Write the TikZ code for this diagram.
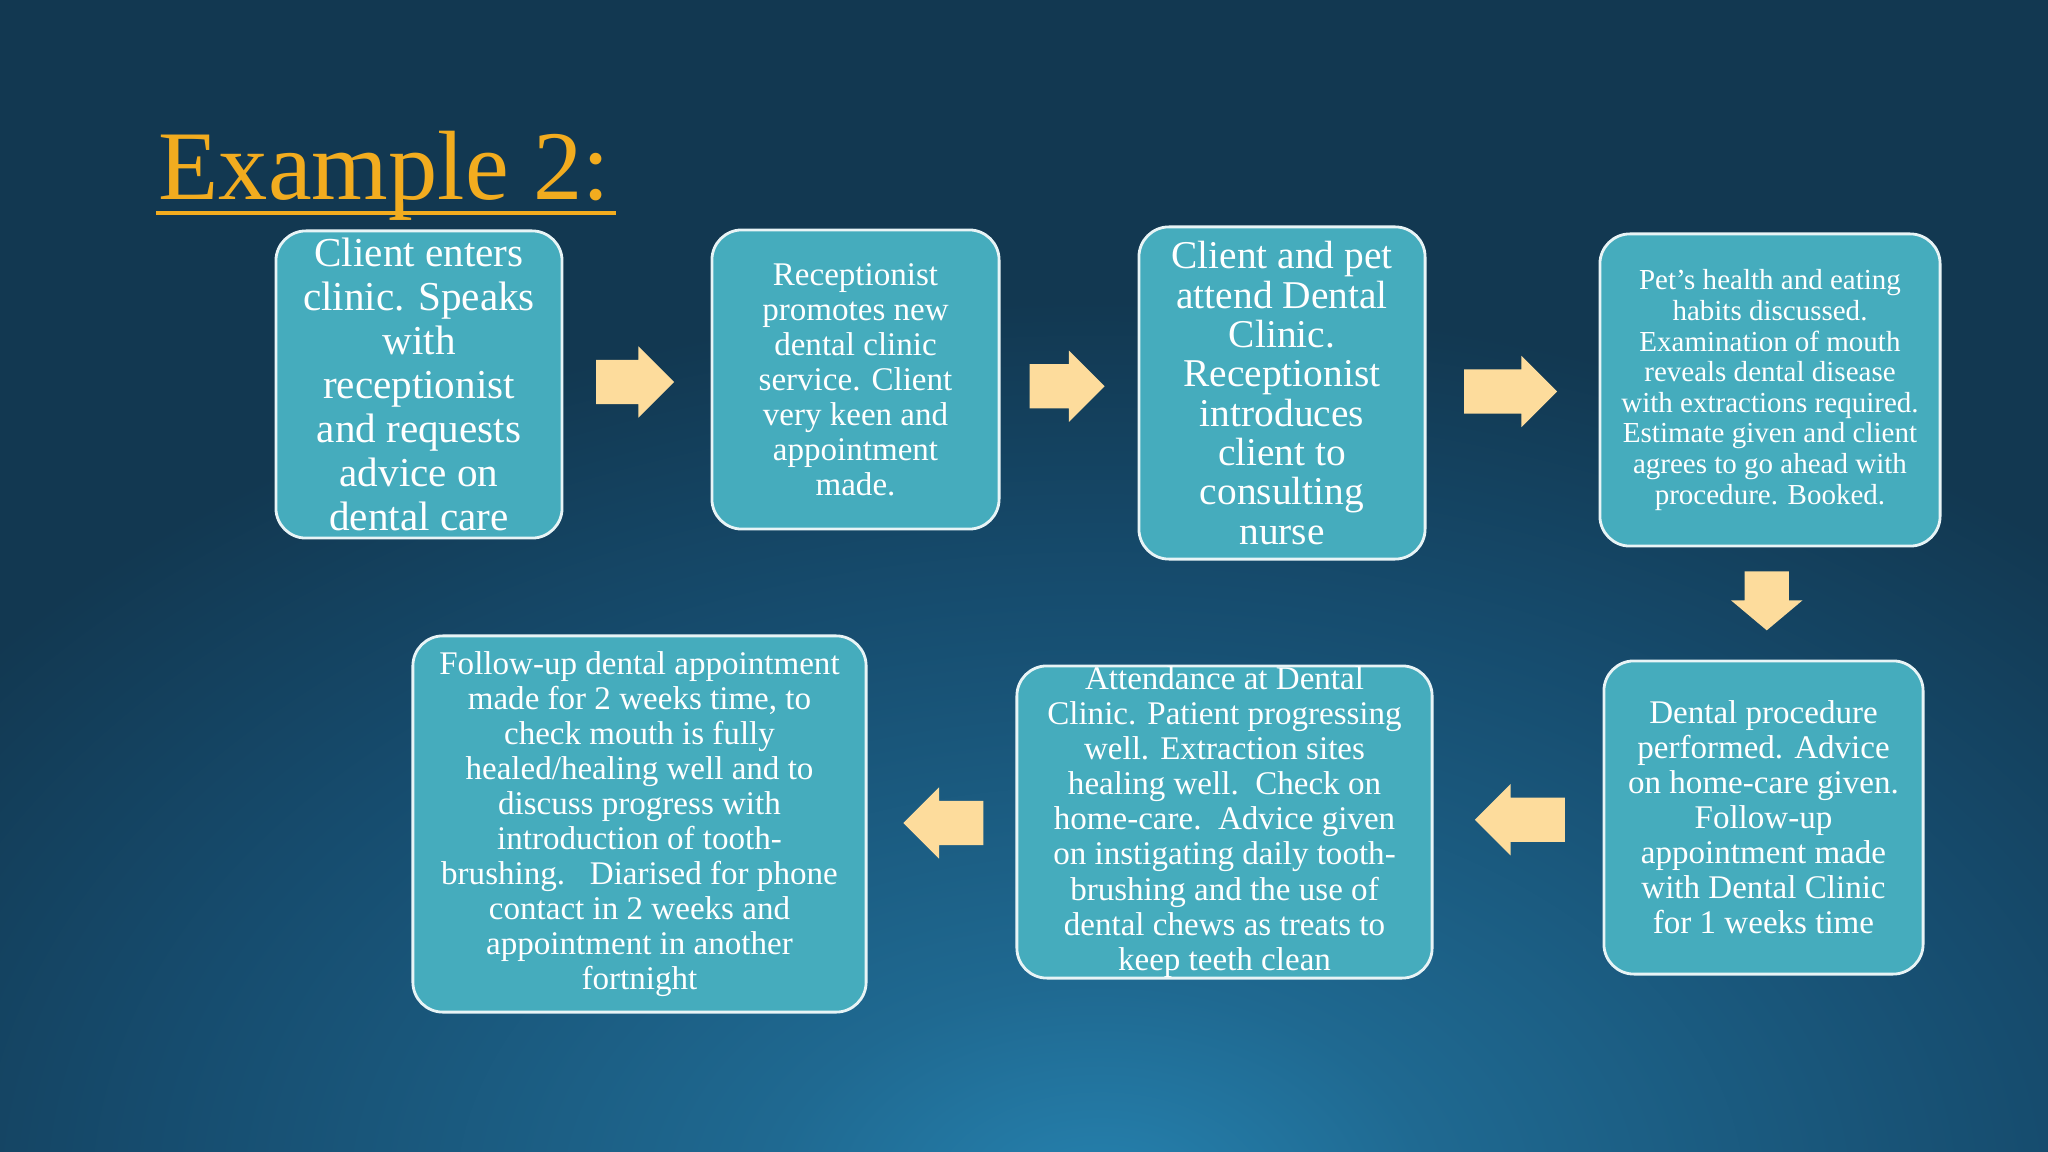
\documentclass[tikz,border=0pt]{standalone}
\usepackage{fontspec}
\setmainfont{Liberation Serif}
\usepackage{tikz}
\usetikzlibrary{shapes.arrows}
\definecolor{bgdark}{RGB}{18,56,81}
\definecolor{bgmid}{RGB}{22,76,110}
\definecolor{bgwarm}{RGB}{31,105,145}
\definecolor{bglight}{RGB}{38,130,175}
\definecolor{boxteal}{RGB}{69,172,189}
\definecolor{boxedge}{RGB}{232,244,246}
\definecolor{arrowsand}{RGB}{253,220,156}
\definecolor{titlegold}{RGB}{242,172,31}
\pgfdeclareradialshading{glow}{\pgfpoint{0bp}{0bp}}{color(0bp)=(bglight); color(6bp)=(bgwarm); color(17bp)=(bgmid); color(25bp)=(bgdark); color(50bp)=(bgdark)}
\tikzset{flowbox/.style={rectangle, rounded corners=0.3cm, fill=boxteal, draw=boxedge, line width=0.8pt, text=white, align=center, inner sep=0pt},
  blockarrow/.style={single arrow, fill=arrowsand, inner xsep=0pt, inner ysep=0.215cm, single arrow head extend=0.135cm, single arrow tip angle=90},
  arrowright/.style={blockarrow, xshift=-0.13cm},
  arrowleft/.style={blockarrow, shape border rotate=180, xshift=0.13cm},
  arrowdown/.style={blockarrow, shape border rotate=270, inner xsep=0.215cm, inner ysep=0pt, single arrow tip angle=100, yshift=0.12cm}}

\begin{document}
\begin{tikzpicture}[x=0.01cm,y=-0.01cm]
   \useasboundingbox (0,0) rectangle (2048,1152);
   \fill[bgdark] (0,0) rectangle (2048,1152);
   \begin{scope}
     \clip (0,0) rectangle (2048,1152);
     \shade[shading=glow] (1100,1200) ellipse (14cm and 9cm);
   \end{scope}
   \node[text=titlegold, font=\fontsize{28}{30}\selectfont, anchor=base west, inner sep=0pt] (title) at (158,200) {Example 2:};
   \draw[titlegold, line width=1.2pt] ([xshift=-0.02cm,yshift=-0.13cm]title.base west) -- ([xshift=0.05cm,yshift=-0.13cm]title.base east);
   \node[flowbox, minimum width=2.86cm, minimum height=3.07cm, font=\fontsize{11.7}{12.5}\selectfont] (b1) at (419,384.5) {Client enters\\clinic. Speaks\\with\\receptionist\\and requests\\advice on\\dental care};
   \node[flowbox, minimum width=2.87cm, minimum height=2.99cm, font=\fontsize{9.4}{9.96}\selectfont] (b2) at (855.5,379.5) {Receptionist\\promotes new\\dental clinic\\service. Client\\very keen and\\appointment\\made.};
   \node[flowbox, minimum width=2.86cm, minimum height=3.32cm, font=\fontsize{11.2}{11.2}\selectfont] (b3) at (1282,393) {Client and pet\\attend Dental\\Clinic.\\Receptionist\\introduces\\client to\\consulting\\nurse};
   \node[flowbox, minimum width=3.40cm, minimum height=3.12cm, font=\fontsize{8.25}{8.7}\selectfont] (b4) at (1770,390) {Pet’s health and eating\\habits discussed.\\Examination of mouth\\reveals dental disease\\with extractions required.\\Estimate given and client\\agrees to go ahead with\\procedure. Booked.};
   \node[flowbox, minimum width=3.19cm, minimum height=3.13cm, font=\fontsize{9.4}{9.96}\selectfont] (b5) at (1763.5,817.5) {Dental procedure\\performed. Advice\\on home-care given.\\Follow-up\\appointment made\\with Dental Clinic\\for 1 weeks time};
   \node[flowbox, minimum width=4.15cm, minimum height=3.12cm, font=\fontsize{9.4}{9.96}\selectfont] (b6) at (1224.5,822) {Attendance at Dental\\Clinic. Patient progressing\\well. Extraction sites\\healing well.\ \ Check on\\home-care.\ \ Advice given\\on instigating daily tooth-\\brushing and the use of\\dental chews as treats to\\keep teeth clean};
   \node[flowbox, minimum width=4.53cm, minimum height=3.76cm, font=\fontsize{9.4}{9.96}\selectfont] (b7) at (639.5,824) {Follow-up dental appointment\\made for 2 weeks time, to\\check mouth is fully\\healed/healing well and to\\discuss progress with\\introduction of tooth-\\brushing.\ \ \ Diarised for phone\\contact in 2 weeks and\\appointment in another\\fortnight};
   \path (b1.east) -- node[arrowright, minimum height=0.78cm] {} (b2.west);
   \path (b2.east) -- node[arrowright, minimum height=0.75cm] {} (b3.west);
   \path (b3.east) -- node[arrowright, minimum height=0.93cm] {} (b4.west);
   \path (b4.south) -- node[arrowdown, minimum height=0.59cm] {} (b5.north);
   \path (b5.west) -- node[arrowleft, minimum height=0.90cm] {} (b6.east);
   \path (b6.west) -- node[arrowleft, minimum height=0.80cm] {} (b7.east);
\end{tikzpicture}
\end{document}
